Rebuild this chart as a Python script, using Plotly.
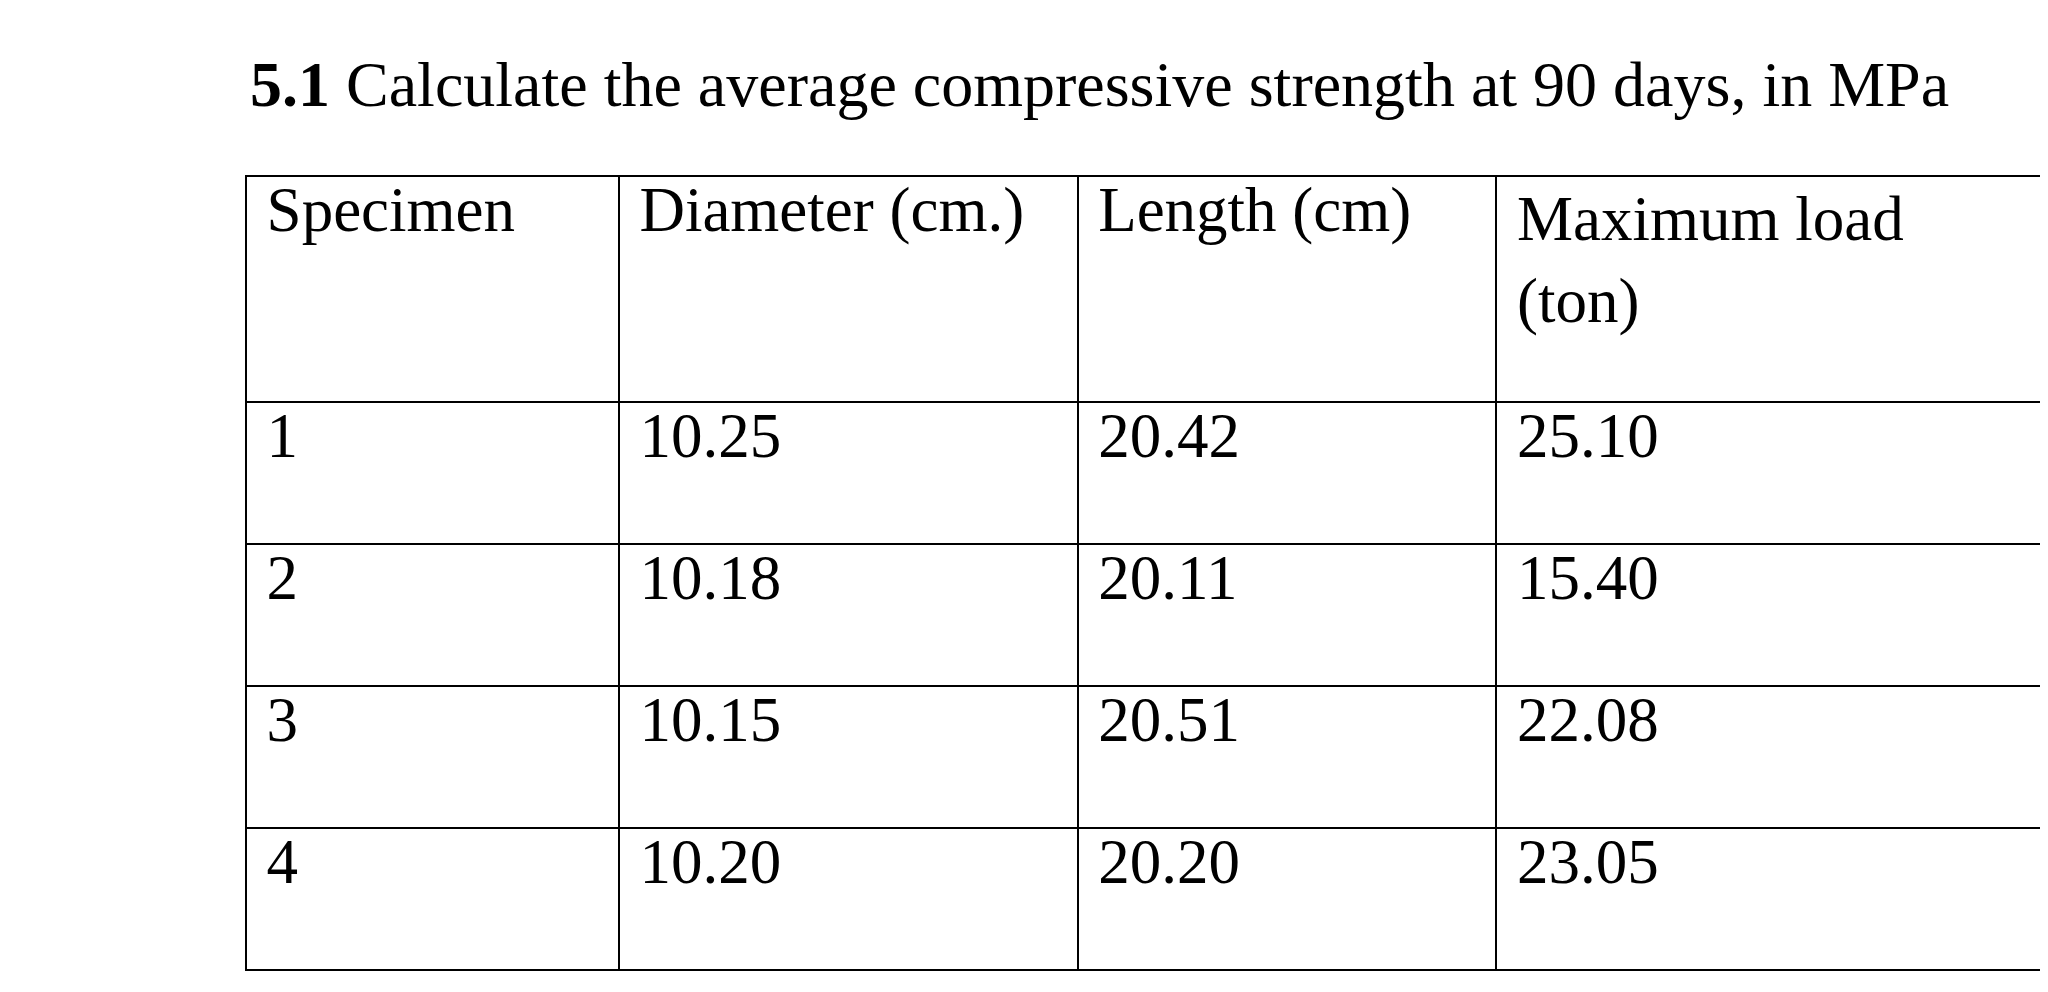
import plotly.graph_objects as go

title = "<b>5.1</b> Calculate the average compressive strength at 90 days, in MPa"
headers = ["Specimen", "Diameter (cm.)", "Length (cm)", "Maximum load<br>(ton)"]
specimen = ["1", "2", "3", "4"]
diameter = ["10.25", "10.18", "10.15", "10.20"]
length = ["20.42", "20.11", "20.51", "20.20"]
max_load = ["25.10", "15.40", "22.08", "23.05"]

W, H = 2048, 992
font = dict(family="Liberation Serif", size=63, color="black")
pad = "\u2009"  # left padding inside cells


def padded(vals):
    return [pad + v.replace("<br>", "<br>" + pad) for v in vals]


fig = go.Figure(go.Table(
    domain=dict(x=[238 / W, 1.0], y=[0.0, 1 - 168 / H]),
    columnwidth=[373, 459, 419, 560],
    header=dict(values=padded(headers), align="left", height=226,
                fill_color="white", line=dict(color="black", width=2), font=font),
    cells=dict(values=[padded(specimen), padded(diameter), padded(length), padded(max_load)],
               align="left", height=142,
               fill_color="white", line=dict(color="black", width=2), font=font),
))

fig.add_annotation(text=title, x=240 / W, y=1 - 76 / H, xref="paper", yref="paper",
                   xanchor="left", yanchor="middle", showarrow=False,
                   font=dict(family="Liberation Serif", size=64, color="black"))

fig.update_layout(width=W, height=H, margin=dict(l=0, r=0, t=0, b=0),
                  paper_bgcolor="white", plot_bgcolor="white")
fig.write_html("out.html")
